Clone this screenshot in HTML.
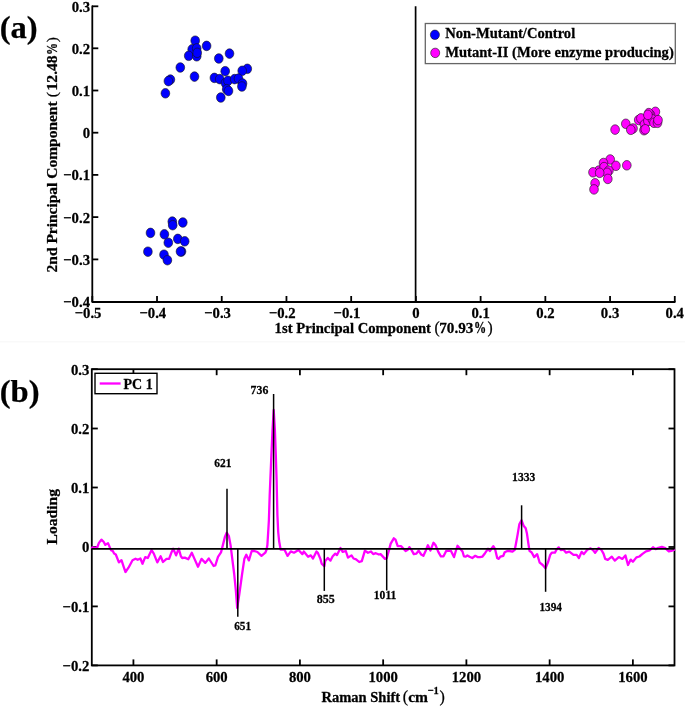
<!DOCTYPE html>
<html><head><meta charset="utf-8"><title>PCA figure</title>
<style>
html,body{margin:0;padding:0;background:#fff;width:685px;height:706px;overflow:hidden}
svg{display:block}
text{font-family:'Liberation Serif', 'Times New Roman', serif;font-weight:bold;fill:#000;stroke:#000;stroke-width:0.25px}
</style></head><body>
<svg width="685" height="706" viewBox="0 0 685 706">
<rect x="0" y="0" width="685" height="706" fill="#fff"/>
<line x1="0" y1="341.9" x2="685" y2="341.9" stroke="#f6f6f6" stroke-width="1"/>
<g stroke="#000" stroke-width="1.8" fill="none" stroke-linecap="butt">
<polyline points="92.3,6.2 92.3,302 674.8,302" stroke-linejoin="round" stroke-linecap="round"/>
<line x1="92.3" y1="6.3" x2="98.3" y2="6.3"/>
<line x1="92.3" y1="48.3" x2="98.3" y2="48.3"/>
<line x1="92.3" y1="90.5" x2="98.3" y2="90.5"/>
<line x1="92.3" y1="132.7" x2="98.3" y2="132.7"/>
<line x1="92.3" y1="174.9" x2="98.3" y2="174.9"/>
<line x1="92.3" y1="217.1" x2="98.3" y2="217.1"/>
<line x1="92.3" y1="259.4" x2="98.3" y2="259.4"/>
<line x1="92.3" y1="302" x2="98.3" y2="302"/>
<line x1="92.3" y1="302" x2="92.3" y2="296"/>
<line x1="157.02" y1="302" x2="157.02" y2="296"/>
<line x1="221.74" y1="302" x2="221.74" y2="296"/>
<line x1="286.46" y1="302" x2="286.46" y2="296"/>
<line x1="351.18" y1="302" x2="351.18" y2="296"/>
<line x1="415.9" y1="302" x2="415.9" y2="296"/>
<line x1="480.62" y1="302" x2="480.62" y2="296"/>
<line x1="545.34" y1="302" x2="545.34" y2="296"/>
<line x1="610.06" y1="302" x2="610.06" y2="296"/>
<line x1="674.78" y1="302" x2="674.78" y2="296"/>
</g>
<line x1="415.6" y1="6.2" x2="415.6" y2="302" stroke="#000" stroke-width="1.7"/>
<g stroke="#141414" stroke-width="0.6">
<ellipse cx="195.2" cy="40.7" rx="4.35" ry="4.8" fill="#0000ff"/>
<ellipse cx="206.6" cy="45.9" rx="4.35" ry="4.8" fill="#0000ff"/>
<ellipse cx="192.2" cy="49.3" rx="4.35" ry="4.8" fill="#0000ff"/>
<ellipse cx="196.7" cy="48.4" rx="4.35" ry="4.8" fill="#0000ff"/>
<ellipse cx="188.7" cy="55.8" rx="4.35" ry="4.8" fill="#0000ff"/>
<ellipse cx="196.7" cy="56.3" rx="4.35" ry="4.8" fill="#0000ff"/>
<ellipse cx="197.2" cy="52.8" rx="4.35" ry="4.8" fill="#0000ff"/>
<ellipse cx="180.3" cy="67.5" rx="4.35" ry="4.8" fill="#0000ff"/>
<ellipse cx="194.5" cy="76.6" rx="4.35" ry="4.8" fill="#0000ff"/>
<ellipse cx="170.4" cy="79.6" rx="4.35" ry="4.8" fill="#0000ff"/>
<ellipse cx="168.4" cy="81.1" rx="4.35" ry="4.8" fill="#0000ff"/>
<ellipse cx="165.4" cy="93.3" rx="4.35" ry="4.8" fill="#0000ff"/>
<ellipse cx="218.8" cy="58.5" rx="4.35" ry="4.8" fill="#0000ff"/>
<ellipse cx="229.5" cy="53.6" rx="4.35" ry="4.8" fill="#0000ff"/>
<ellipse cx="225.2" cy="71.2" rx="4.35" ry="4.8" fill="#0000ff"/>
<ellipse cx="247.3" cy="68.8" rx="4.35" ry="4.8" fill="#0000ff"/>
<ellipse cx="242.2" cy="70.8" rx="4.35" ry="4.8" fill="#0000ff"/>
<ellipse cx="214.4" cy="77.9" rx="4.35" ry="4.8" fill="#0000ff"/>
<ellipse cx="219.7" cy="79.1" rx="4.35" ry="4.8" fill="#0000ff"/>
<ellipse cx="225.4" cy="83" rx="4.35" ry="4.8" fill="#0000ff"/>
<ellipse cx="228" cy="80.8" rx="4.35" ry="4.8" fill="#0000ff"/>
<ellipse cx="234.6" cy="79.1" rx="4.35" ry="4.8" fill="#0000ff"/>
<ellipse cx="238.5" cy="78.6" rx="4.35" ry="4.8" fill="#0000ff"/>
<ellipse cx="242.5" cy="83.5" rx="4.35" ry="4.8" fill="#0000ff"/>
<ellipse cx="241.9" cy="86.5" rx="4.35" ry="4.8" fill="#0000ff"/>
<ellipse cx="226.7" cy="89.2" rx="4.35" ry="4.8" fill="#0000ff"/>
<ellipse cx="228.5" cy="90.9" rx="4.35" ry="4.8" fill="#0000ff"/>
<ellipse cx="220.8" cy="97.5" rx="4.35" ry="4.8" fill="#0000ff"/>
<ellipse cx="172.3" cy="221.6" rx="4.35" ry="4.8" fill="#0000ff"/>
<ellipse cx="172.7" cy="225.2" rx="4.35" ry="4.8" fill="#0000ff"/>
<ellipse cx="182.8" cy="222.5" rx="4.35" ry="4.8" fill="#0000ff"/>
<ellipse cx="150.5" cy="232.9" rx="4.35" ry="4.8" fill="#0000ff"/>
<ellipse cx="164.4" cy="234.3" rx="4.35" ry="4.8" fill="#0000ff"/>
<ellipse cx="168.3" cy="242.7" rx="4.35" ry="4.8" fill="#0000ff"/>
<ellipse cx="177.8" cy="238.9" rx="4.35" ry="4.8" fill="#0000ff"/>
<ellipse cx="184.7" cy="241.3" rx="4.35" ry="4.8" fill="#0000ff"/>
<ellipse cx="147.9" cy="251.7" rx="4.35" ry="4.8" fill="#0000ff"/>
<ellipse cx="164" cy="254.7" rx="4.35" ry="4.8" fill="#0000ff"/>
<ellipse cx="167.4" cy="260.2" rx="4.35" ry="4.8" fill="#0000ff"/>
<ellipse cx="181.5" cy="251.5" rx="4.35" ry="4.8" fill="#0000ff"/>
<ellipse cx="180.5" cy="251.5" rx="4.35" ry="4.8" fill="#0000ff"/>
<ellipse cx="615.1" cy="129.6" rx="4.35" ry="4.8" fill="#ff00ff"/>
<ellipse cx="625.8" cy="123.8" rx="4.35" ry="4.8" fill="#ff00ff"/>
<ellipse cx="633" cy="128.5" rx="4.35" ry="4.8" fill="#ff00ff"/>
<ellipse cx="630.8" cy="129.8" rx="4.35" ry="4.8" fill="#ff00ff"/>
<ellipse cx="638.7" cy="120" rx="4.35" ry="4.8" fill="#ff00ff"/>
<ellipse cx="640.9" cy="118.4" rx="4.35" ry="4.8" fill="#ff00ff"/>
<ellipse cx="644.4" cy="124.5" rx="4.35" ry="4.8" fill="#ff00ff"/>
<ellipse cx="655.4" cy="111.8" rx="4.35" ry="4.8" fill="#ff00ff"/>
<ellipse cx="650.5" cy="114.9" rx="4.35" ry="4.8" fill="#ff00ff"/>
<ellipse cx="648.8" cy="113.1" rx="4.35" ry="4.8" fill="#ff00ff"/>
<ellipse cx="647.9" cy="121" rx="4.35" ry="4.8" fill="#ff00ff"/>
<ellipse cx="652.3" cy="119.3" rx="4.35" ry="4.8" fill="#ff00ff"/>
<ellipse cx="654" cy="122.8" rx="4.35" ry="4.8" fill="#ff00ff"/>
<ellipse cx="657.5" cy="122.8" rx="4.35" ry="4.8" fill="#ff00ff"/>
<ellipse cx="647.9" cy="114.9" rx="4.35" ry="4.8" fill="#ff00ff"/>
<ellipse cx="644" cy="130.2" rx="4.35" ry="4.8" fill="#ff00ff"/>
<ellipse cx="645.3" cy="129.3" rx="4.35" ry="4.8" fill="#ff00ff"/>
<ellipse cx="658" cy="120.1" rx="4.35" ry="4.8" fill="#ff00ff"/>
<ellipse cx="610.2" cy="159.5" rx="4.35" ry="4.8" fill="#ff00ff"/>
<ellipse cx="603.5" cy="163" rx="4.35" ry="4.8" fill="#ff00ff"/>
<ellipse cx="615.9" cy="165.8" rx="4.35" ry="4.8" fill="#ff00ff"/>
<ellipse cx="626.8" cy="165.3" rx="4.35" ry="4.8" fill="#ff00ff"/>
<ellipse cx="598.8" cy="170.6" rx="4.35" ry="4.8" fill="#ff00ff"/>
<ellipse cx="604.1" cy="167.1" rx="4.35" ry="4.8" fill="#ff00ff"/>
<ellipse cx="608.9" cy="170.6" rx="4.35" ry="4.8" fill="#ff00ff"/>
<ellipse cx="607.1" cy="172.8" rx="4.35" ry="4.8" fill="#ff00ff"/>
<ellipse cx="593" cy="172.3" rx="4.35" ry="4.8" fill="#ff00ff"/>
<ellipse cx="599.7" cy="172.8" rx="4.35" ry="4.8" fill="#ff00ff"/>
<ellipse cx="607.8" cy="178.9" rx="4.35" ry="4.8" fill="#ff00ff"/>
<ellipse cx="595.1" cy="183.3" rx="4.35" ry="4.8" fill="#ff00ff"/>
<ellipse cx="594" cy="189.4" rx="4.35" ry="4.8" fill="#ff00ff"/>
</g>
<g font-size="14.7" text-anchor="end">
<text x="90" y="11.8" transform="matrix(1 0 0 1.05 0 -0.59)">0.3</text>
<text x="90" y="53.8" transform="matrix(1 0 0 1.05 0 -2.69)">0.2</text>
<text x="90" y="96" transform="matrix(1 0 0 1.05 0 -4.8)">0.1</text>
<text x="90" y="138.2" transform="matrix(1 0 0 1.05 0 -6.91)">0</text>
<text x="90" y="180.4" transform="matrix(1 0 0 1.05 0 -9.02)">−0.1</text>
<text x="90" y="222.6" transform="matrix(1 0 0 1.05 0 -11.13)">−0.2</text>
<text x="90" y="264.9" transform="matrix(1 0 0 1.05 0 -13.25)">−0.3</text>
<text x="90" y="307.5" transform="matrix(1 0 0 1.05 0 -15.38)">−0.4</text>
</g>
<g font-size="14.7" text-anchor="middle">
<text x="88.1" y="318.4" transform="matrix(1 0 0 1.05 0 -15.92)">−0.5</text>
<text x="152.82" y="318.4" transform="matrix(1 0 0 1.05 0 -15.92)">−0.4</text>
<text x="217.54" y="318.4" transform="matrix(1 0 0 1.05 0 -15.92)">−0.3</text>
<text x="282.26" y="318.4" transform="matrix(1 0 0 1.05 0 -15.92)">−0.2</text>
<text x="346.98" y="318.4" transform="matrix(1 0 0 1.05 0 -15.92)">−0.1</text>
<text x="415.9" y="318.4" transform="matrix(1 0 0 1.05 0 -15.92)">0</text>
<text x="480.62" y="318.4" transform="matrix(1 0 0 1.05 0 -15.92)">0.1</text>
<text x="545.34" y="318.4" transform="matrix(1 0 0 1.05 0 -15.92)">0.2</text>
<text x="610.06" y="318.4" transform="matrix(1 0 0 1.05 0 -15.92)">0.3</text>
<text x="674.78" y="318.4" transform="matrix(1 0 0 1.05 0 -15.92)">0.4</text>
</g>
<text y="333" font-size="14" transform="matrix(1 0 0 1.05 0 -16.65)"><tspan x="274.6" textLength="156.4" lengthAdjust="spacingAndGlyphs">1st Principal Component</tspan><tspan x="434.4" font-weight="normal" font-size="15.5">(</tspan><tspan x="439.2" textLength="34.2" lengthAdjust="spacingAndGlyphs">70.93</tspan><tspan x="473.9" font-size="15" textLength="12.2" lengthAdjust="spacingAndGlyphs">%</tspan><tspan x="487.4" font-weight="normal" font-size="15.5">)</tspan></text>
<text transform="translate(57,271.8) rotate(-90)" y="0" font-size="14"><tspan x="-0.6" textLength="171" lengthAdjust="spacingAndGlyphs">2nd Principal Component</tspan><tspan x="174.6" font-weight="normal" font-size="15.5">(</tspan><tspan x="181.3" textLength="35.2" lengthAdjust="spacingAndGlyphs">12.48</tspan><tspan x="216.9" font-size="15" textLength="12.0" lengthAdjust="spacingAndGlyphs">%</tspan><tspan x="229.6" font-weight="normal" font-size="15.5">)</tspan></text>
<text x="-0.3" y="38.2" font-size="32.6">(a)</text>
<rect x="425.3" y="23.5" width="250" height="40.1" fill="#fff" stroke="#666" stroke-width="1.3"/>
<ellipse cx="434.9" cy="34.8" rx="4.55" ry="4.75" fill="#0000ff" stroke="#141414" stroke-width="0.6"/>
<ellipse cx="435.2" cy="52.9" rx="4.5" ry="4.75" fill="#ff00ff" stroke="#141414" stroke-width="0.6"/>
<text x="445.2" y="38.4" transform="matrix(1 0 0 1.05 0 -1.92)" font-size="14.5" textLength="130" lengthAdjust="spacingAndGlyphs">Non-Mutant/Control</text>
<text x="445.2" y="57.4" transform="matrix(1 0 0 1.05 0 -2.87)" font-size="14.5" textLength="228.6" lengthAdjust="spacingAndGlyphs">Mutant-II (More enzyme producing)</text>
<g stroke="#000" stroke-width="1.8" fill="none">
<rect x="91.8" y="369.2" width="582.7" height="296.2"/>
<line x1="91.8" y1="369.2" x2="97.8" y2="369.2"/>
<line x1="674.5" y1="369.2" x2="668.5" y2="369.2"/>
<line x1="91.8" y1="428.5" x2="97.8" y2="428.5"/>
<line x1="674.5" y1="428.5" x2="668.5" y2="428.5"/>
<line x1="91.8" y1="487.5" x2="97.8" y2="487.5"/>
<line x1="674.5" y1="487.5" x2="668.5" y2="487.5"/>
<line x1="91.8" y1="547" x2="97.8" y2="547"/>
<line x1="674.5" y1="547" x2="668.5" y2="547"/>
<line x1="91.8" y1="606.4" x2="97.8" y2="606.4"/>
<line x1="674.5" y1="606.4" x2="668.5" y2="606.4"/>
<line x1="91.8" y1="665.4" x2="97.8" y2="665.4"/>
<line x1="674.5" y1="665.4" x2="668.5" y2="665.4"/>
<line x1="133.42" y1="665.4" x2="133.42" y2="659.4"/>
<line x1="133.42" y1="369.2" x2="133.42" y2="375.2"/>
<line x1="216.66" y1="665.4" x2="216.66" y2="659.4"/>
<line x1="216.66" y1="369.2" x2="216.66" y2="375.2"/>
<line x1="299.91" y1="665.4" x2="299.91" y2="659.4"/>
<line x1="299.91" y1="369.2" x2="299.91" y2="375.2"/>
<line x1="383.15" y1="665.4" x2="383.15" y2="659.4"/>
<line x1="383.15" y1="369.2" x2="383.15" y2="375.2"/>
<line x1="466.39" y1="665.4" x2="466.39" y2="659.4"/>
<line x1="466.39" y1="369.2" x2="466.39" y2="375.2"/>
<line x1="549.64" y1="665.4" x2="549.64" y2="659.4"/>
<line x1="549.64" y1="369.2" x2="549.64" y2="375.2"/>
<line x1="632.88" y1="665.4" x2="632.88" y2="659.4"/>
<line x1="632.88" y1="369.2" x2="632.88" y2="375.2"/>
</g>
<polyline points="92.2,547.5 95.3,548 97.4,547.1 98.8,543.1 101.4,539.6 103.6,541.8 105.3,544.9 108,543.1 109.7,547.1 111,550.1 112.8,551 114.1,553.6 115.8,554.5 118.9,562.4 121.5,560.2 123.7,566.8 125.5,572 128.5,567.7 132.5,560.2 135.5,558.7 137.7,559.8 140.4,558.5 142.5,563.7 145.2,557.1 147.8,558 151.6,550.1 153.8,553.6 157.3,562.4 160.6,556.3 163,562 166.5,558.9 169.1,558.9 171.3,552.8 173.2,548.8 176.1,555.4 178.7,548.6 180.9,556.3 182.2,558 184.8,557.6 188.3,559.3 191.8,552.8 194.5,558.9 198,566.8 201.5,558.9 205.3,562.9 208.8,558.5 213.6,566 215.3,565.5 218,556.8 221,552.4 222.8,545.4 225,536.6 226.7,532.7 228.9,536.2 230.6,545.4 231.9,555.9 234.2,574 235.9,591 237.2,608 239.3,594.4 242.1,574 244.4,558.7 246.3,554.7 248.9,560.4 251.7,551 254.5,551 257.4,552 261.5,555.9 265.3,552.7 266.6,549.5 267.4,545 268.2,532 268.9,520 269.7,495 270.4,478 271.4,455 272.5,430 273.7,410 274.9,430 275.8,455 276.6,480 277.4,515 278.2,532 279.1,541 280.6,549.5 284.4,549.5 287.6,555.9 290.8,551.4 294,552.7 297.2,550.8 298.5,550 302.4,554.1 303.8,551.5 308.1,556.7 310.8,555.4 313,558.5 316.5,551.5 317.8,552.8 320.4,558.9 321.7,563.7 324.3,566.3 325.2,561.1 327.8,558 330.5,560.6 332.7,556.3 335.3,553.6 337,555 340.5,548 342.7,551.9 345.8,551 348,557.6 351.5,555.4 353.5,558.5 356.1,559.3 359.2,562 361.8,561.1 364.9,550.6 368,552.8 371,551.5 373.2,554.1 375.8,553.2 378.9,554.5 380.6,554.1 385,558.9 386.8,558 389,550.1 390.7,543.6 393.8,538.3 395.5,539.6 397.7,546.2 401.2,546.2 405.6,551 407.8,549.7 409.4,547.1 411.6,550.1 413.8,554.1 416.4,553.6 418.6,550.6 421.2,554.5 423.4,555.8 425.6,551 427.9,545.3 430.4,550.6 433.5,542.7 435.6,545.3 438.3,551.9 440.9,556.3 443.5,556.3 446.2,551 448.8,550.6 451,551 454,557.1 455.8,551 457.5,545.8 460.2,548.8 462.5,551.5 463.9,556.3 465.7,556.7 467.4,555.4 469.6,556.7 472.3,558 475.3,555.8 477.5,557.1 480.1,557.1 482.3,556.7 485,553.2 488,548.8 489.8,551 493.3,546.2 495,548.8 497.2,558 498.5,558.9 500.3,556.7 503.3,555.8 504.7,552.3 507.3,551 509.5,551 512.5,551.6 514.7,549.9 515.9,544 517.6,534.6 519.3,524.4 521.5,520.2 523.6,525.7 525.7,528.3 527,533.8 528.3,543.1 529.5,550.8 531.7,552.5 534.2,557.1 537.2,554.2 539.7,562.7 542.7,565 545.5,568.3 548,562.3 550.2,554.9 551.8,552.7 554.9,552.7 556.5,549.6 558.7,547.4 560.8,550.1 563.4,549.6 566.1,552.7 569.3,551.7 573.5,554.9 576.7,554.9 578.9,558 581.6,551.9 583.8,554.1 587.3,549.7 590.6,548.4 593,550.1 595.1,552.8 598.6,548 601.3,549.7 603.5,553.6 605.2,558.9 607.8,559.8 611.8,556.7 614.8,560.6 618.8,557.1 622.3,558.9 625.4,555.4 628,565 630.7,559.6 632.9,561.8 636.4,557.4 639.4,556.5 642.5,553.9 646,551.3 649.5,550.4 653,547.3 655.6,549.1 658.3,547.8 661.8,546.9 665.3,548.2 668.8,551.3 671.4,550.8 674,550" fill="none" stroke="#ff00ff" stroke-width="2.3" stroke-linejoin="round" stroke-linecap="round"/>
<line x1="91.8" y1="548.8" x2="674.5" y2="548.8" stroke="#000" stroke-width="1.7"/>
<g stroke="#000" stroke-width="1.5">
<line x1="227" y1="488.8" x2="227" y2="548.8"/>
<line x1="237.8" y1="548.8" x2="237.8" y2="616.8"/>
<line x1="273.6" y1="394" x2="273.6" y2="548.8"/>
<line x1="324.3" y1="548.8" x2="324.3" y2="590.9"/>
<line x1="386.7" y1="548.8" x2="386.7" y2="590.5"/>
<line x1="521.6" y1="505.3" x2="521.6" y2="548.8"/>
<line x1="545.6" y1="548.8" x2="545.6" y2="591.8"/>
</g>
<g font-size="12.8">
<text x="214.2" y="467" transform="matrix(1 0 0 1.02 0 -9.34)" textLength="17.2" lengthAdjust="spacingAndGlyphs">621</text>
<text x="250.6" y="394.3" transform="matrix(1 0 0 1.02 0 -7.89)" textLength="17.7" lengthAdjust="spacingAndGlyphs">736</text>
<text x="234.2" y="629.7" transform="matrix(1 0 0 1.02 0 -12.59)" textLength="16.9" lengthAdjust="spacingAndGlyphs">651</text>
<text x="316.7" y="602.6" transform="matrix(1 0 0 1.02 0 -12.05)" textLength="18.1" lengthAdjust="spacingAndGlyphs">855</text>
<text x="373.8" y="598.6" transform="matrix(1 0 0 1.02 0 -11.97)" textLength="22.6" lengthAdjust="spacingAndGlyphs">1011</text>
<text x="512.1" y="480.8" transform="matrix(1 0 0 1.02 0 -9.62)" textLength="23.2" lengthAdjust="spacingAndGlyphs">1333</text>
<text x="539.4" y="611.3" transform="matrix(1 0 0 1.02 0 -12.23)" textLength="22.6" lengthAdjust="spacingAndGlyphs">1394</text>
</g>
<g font-size="14.7" text-anchor="end">
<text x="89.3" y="374.6" transform="matrix(1 0 0 1.05 0 -18.73)">0.3</text>
<text x="89.3" y="433.9" transform="matrix(1 0 0 1.05 0 -21.7)">0.2</text>
<text x="89.3" y="492.9" transform="matrix(1 0 0 1.05 0 -24.65)">0.1</text>
<text x="89.3" y="552.4" transform="matrix(1 0 0 1.05 0 -27.62)">0</text>
<text x="89.3" y="611.8" transform="matrix(1 0 0 1.05 0 -30.59)">−0.1</text>
<text x="89.3" y="670.8" transform="matrix(1 0 0 1.05 0 -33.54)">−0.2</text>
</g>
<g font-size="14.7" text-anchor="middle">
<text x="133.42" y="682.2" transform="matrix(1 0 0 1.05 0 -34.11)">400</text>
<text x="216.66" y="682.2" transform="matrix(1 0 0 1.05 0 -34.11)">600</text>
<text x="299.91" y="682.2" transform="matrix(1 0 0 1.05 0 -34.11)">800</text>
<text x="383.15" y="682.2" transform="matrix(1 0 0 1.05 0 -34.11)">1000</text>
<text x="466.39" y="682.2" transform="matrix(1 0 0 1.05 0 -34.11)">1200</text>
<text x="549.64" y="682.2" transform="matrix(1 0 0 1.05 0 -34.11)">1400</text>
<text x="632.88" y="682.2" transform="matrix(1 0 0 1.05 0 -34.11)">1600</text>
</g>
<text y="702" font-size="14" transform="matrix(1 0 0 1.05 0 -35.1)"><tspan x="321.4" textLength="78.8" lengthAdjust="spacingAndGlyphs">Raman Shift</tspan><tspan x="402.8" font-weight="normal" font-size="16">(</tspan><tspan x="408.2" textLength="19.8" lengthAdjust="spacingAndGlyphs">cm</tspan><tspan x="427.6" y="694.3" font-size="10.5">−1</tspan><tspan x="439.6" y="702" font-weight="normal" font-size="16">)</tspan></text>
<text transform="translate(56.8,544.4) rotate(-90)" x="0" y="0" font-size="14" textLength="55.5" lengthAdjust="spacingAndGlyphs">Loading</text>
<text x="-0.3" y="402.4" font-size="32.6">(b)</text>
<rect x="95" y="373.3" width="62" height="20.4" fill="#fff" stroke="#000" stroke-width="1.4"/>
<line x1="99.7" y1="383.5" x2="120.6" y2="383.5" stroke="#ff00ff" stroke-width="2.3"/>
<text x="123.5" y="389" transform="matrix(1 0 0 1.05 0 -19.45)" font-size="14" textLength="29.2" lengthAdjust="spacingAndGlyphs">PC 1</text>
</svg>
</body></html>
